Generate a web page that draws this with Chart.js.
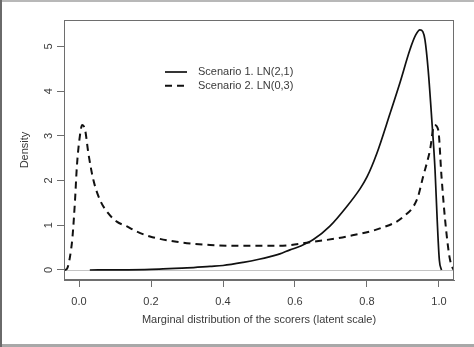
<!DOCTYPE html>
<html>
<head>
<meta charset="utf-8">
<script src="https://cdn.jsdelivr.net/npm/chart.js@4.4.1/dist/chart.umd.min.js"></script>
<style>
html,body{margin:0;padding:0;background:#fff;}
canvas{display:block;}
</style>
</head>
<body>
<canvas id="c" width="474" height="347"></canvas>
<script>
// ---- data ----
const seriesLabels = ["Scenario 1. LN(2,1)", "Scenario 2. LN(0,3)"];

const s1X = [0.03, 0.10, 0.20, 0.25, 0.30, 0.364, 0.40, 0.456, 0.50, 0.531, 0.558, 0.586, 0.614, 0.651, 0.697, 0.744, 0.781, 0.80, 0.827, 0.864, 0.892, 0.919, 0.935, 0.947, 0.955, 0.961, 0.970, 0.980, 0.989, 0.995, 1.001, 1.007];
const s1Y = [0, 0.003, 0.015, 0.03, 0.045, 0.08, 0.10, 0.17, 0.24, 0.30, 0.36, 0.45, 0.53, 0.68, 0.98, 1.42, 1.82, 2.08, 2.60, 3.50, 4.20, 4.92, 5.25, 5.37, 5.33, 5.15, 4.47, 3.36, 2.24, 1.12, 0.22, 0];

const s2X = [-0.041, -0.034, -0.025, -0.018, -0.011, -0.006, 0.001, 0.009, 0.017, 0.026, 0.040, 0.058, 0.081, 0.105, 0.132, 0.160, 0.197, 0.271, 0.364, 0.456, 0.549, 0.651, 0.744, 0.836, 0.901, 0.940, 0.956, 0.975, 0.987, 0.998, 1.007, 1.017, 1.029, 1.038, 1.042];
const s2Y = [0, 0.02, 0.30, 0.75, 1.57, 2.31, 2.91, 3.24, 3.13, 2.61, 2.01, 1.57, 1.27, 1.08, 0.98, 0.86, 0.75, 0.63, 0.56, 0.54, 0.54, 0.63, 0.75, 0.93, 1.19, 1.60, 2.09, 2.68, 3.24, 3.13, 2.09, 1.12, 0.30, 0.04, 0];

const xTicks = [0.0, 0.2, 0.4, 0.6, 0.8, 1.0];
const yTicks = [0, 1, 2, 3, 4, 5];
const xTitle = "Marginal distribution of the scorers (latent scale)";
const yTitle = "Density";

const xRange = [-0.0417, 1.0417];
const yRange = [-0.224, 5.59];

// ---- build ----
function pts(xs, ys){ return xs.map((x,i)=>({x:x, y:ys[i]})); }

const FONT = "'Liberation Sans', Arial, sans-serif";
const TXT = "#3a3a3a";
const AX = "#6e6e6e";

const framePlugin = {
  id: 'frame',
  beforeDraw(chart){
    const ctx = chart.ctx;
    ctx.save();
    ctx.fillStyle = '#fff';
    ctx.fillRect(0,0,chart.width,chart.height);
    ctx.fillStyle = '#b8b8b8';
    ctx.fillRect(0,0,chart.width,2);
    ctx.fillStyle = '#a8a8a8';
    ctx.fillRect(0,chart.height-3,chart.width,3);
    ctx.fillStyle = '#6a6a6a';
    ctx.fillRect(0,0,2,chart.height);
    ctx.restore();
  },
  beforeDatasetsDraw(chart){
    const ctx = chart.ctx, a = chart.chartArea;
    const y0 = chart.scales.y.getPixelForValue(0);
    ctx.save();
    ctx.strokeStyle = '#c4c4c4';
    ctx.lineWidth = 1;
    ctx.beginPath();
    ctx.moveTo(a.left, Math.round(y0)+0.5);
    ctx.lineTo(a.right, Math.round(y0)+0.5);
    ctx.stroke();
    ctx.restore();
  },
  afterDatasetsDraw(chart){
    const ctx = chart.ctx, a = chart.chartArea;
    ctx.save();
    // box
    ctx.strokeStyle = AX;
    ctx.lineWidth = 1;
    ctx.strokeRect(a.left+0.5, a.top+0.5, a.right-a.left-1, a.bottom-a.top-1);
    // legend
    const lx = a.left + 101, ty = a.top + 52, dy = 13.7;
    ctx.font = "11px " + FONT;
    ctx.textBaseline = 'middle';
    ctx.textAlign = 'left';
    chart.data.datasets.forEach((ds,i)=>{
      const y = ty + i*dy;
      ctx.strokeStyle = ds.borderColor;
      ctx.lineWidth = ds.borderWidth;
      ctx.setLineDash(ds.borderDash || []);
      ctx.beginPath();
      ctx.moveTo(lx, y);
      ctx.lineTo(lx+22, y);
      ctx.stroke();
      ctx.setLineDash([]);
      ctx.fillStyle = TXT;
      ctx.fillText(ds.label, lx+33, y);
    });
    ctx.restore();
  }
};

new Chart(document.getElementById('c'), {
  type: 'scatter',
  data: {
    datasets: [
      { label: seriesLabels[0], data: pts(s1X, s1Y), showLine: true, pointRadius: 0,
        borderColor: '#111', borderWidth: 1.7, cubicInterpolationMode: 'monotone', fill: false },
      { label: seriesLabels[1], data: pts(s2X, s2Y), showLine: true, pointRadius: 0,
        borderColor: '#111', borderWidth: 2, borderDash: [7,5], cubicInterpolationMode: 'monotone', fill: false }
    ]
  },
  options: {
    responsive: false,
    animation: false,
    devicePixelRatio: 1,
    layout: { padding: { left: 0, right: 20, top: 20, bottom: 0 } },
    plugins: { legend: { display: false }, tooltip: { enabled: false } },
    scales: {
      x: {
        type: 'linear', min: xRange[0], max: xRange[1],
        afterBuildTicks(s){ s.ticks = xTicks.map(v=>({value:v})); },
        afterFit(s){ s.height = 67; },
        ticks: { includeBounds: false, padding: 8, color: TXT, font: { family: FONT, size: 11 },
                 callback: v => v.toFixed(1), maxRotation: 0, minRotation: 0 },
        grid: { drawOnChartArea: false, drawTicks: true, tickLength: 7, color: AX },
        border: { display: true, color: AX },
        title: { display: true, text: xTitle, color: TXT, font: { family: FONT, size: 11 },
                 padding: { top: 0, bottom: 20 } }
      },
      y: {
        type: 'linear', min: yRange[0], max: yRange[1],
        afterBuildTicks(s){ s.ticks = yTicks.map(v=>({value:v})); },
        afterFit(s){ s.width = 64; },
        ticks: { includeBounds: false, padding: 5, color: TXT, font: { family: FONT, size: 11 },
                 minRotation: 90, maxRotation: 90, crossAlign: 'center',
                 callback: v => String(v) },
        grid: { drawOnChartArea: false, drawTicks: true, tickLength: 7, color: AX },
        border: { display: true, color: AX },
        title: { display: true, text: yTitle, color: TXT, font: { family: FONT, size: 11 },
                 padding: { top: 18, bottom: 0 } }
      }
    }
  },
  plugins: [framePlugin]
});
</script>
</body>
</html>
